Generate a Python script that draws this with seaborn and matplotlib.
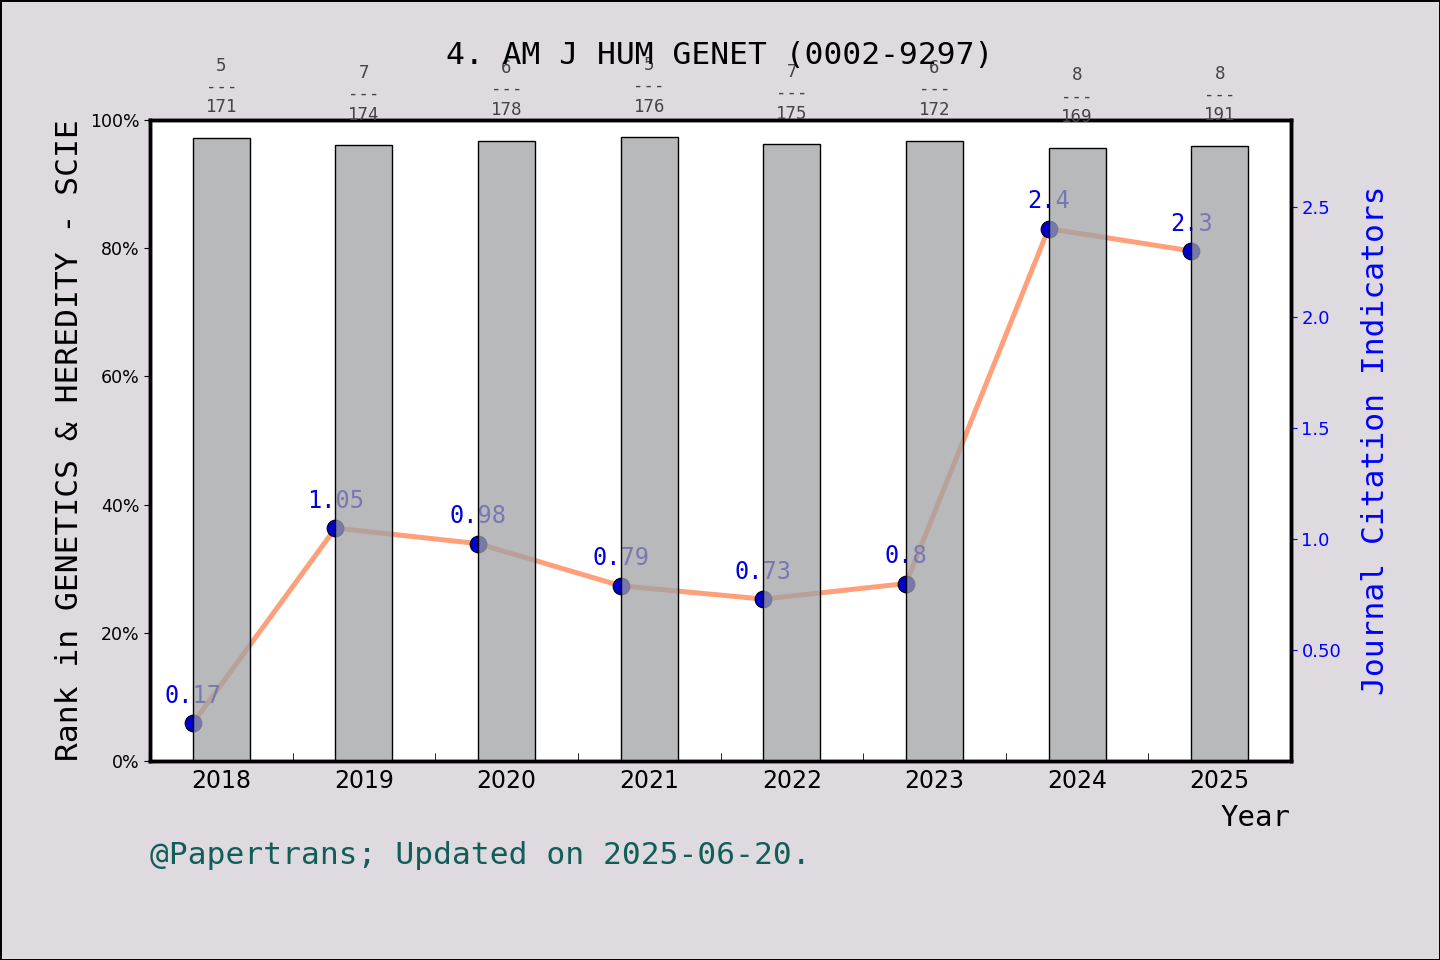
import matplotlib
matplotlib.use("Agg")
import matplotlib.pyplot as plt
from matplotlib.ticker import PercentFormatter, FixedLocator, FixedFormatter, MultipleLocator
import seaborn as sns
import numpy as np

# Data
years = ['2018', '2019', '2020', '2021', '2022', '2023', '2024', '2025']
rank_pct = [97.2, 96.1, 96.8, 97.3, 96.2, 96.8, 95.7, 96.0]
ranks = [5, 7, 6, 5, 7, 6, 8, 8]
totals = [171, 174, 178, 176, 175, 172, 169, 191]
jci = [0.17, 1.05, 0.98, 0.79, 0.73, 0.8, 2.4, 2.3]
jci_labels = ['0.17', '1.05', '0.98', '0.79', '0.73', '0.8', '2.4', '2.3']
jci_ticks = [0.5, 1.0, 1.5, 2.0, 2.5]
jci_tick_labels = ['0.50', '1.0', '1.5', '2.0', '2.5']

mono = 'DejaVu Sans Mono'
bg = '#dedae0'

fig = plt.figure(figsize=(14.4, 9.6), dpi=100, facecolor=bg,
                 edgecolor='black', linewidth=2)
ax = fig.add_axes([0.1042, 0.2073, 0.7923, 0.6677])
ax2 = ax.twinx()

# bars sit above the line and are semi transparent
ax.set_zorder(2)
ax2.set_zorder(1)
ax.patch.set_visible(False)
ax2.patch.set_visible(True)
ax2.patch.set_facecolor('white')

sns.barplot(x=years, y=rank_pct, ax=ax, width=0.4, saturation=1,
            color='#a0a2a4')
for p in ax.patches:
    p.set_facecolor((0.627, 0.635, 0.643, 0.75))
    p.set_edgecolor('black')
    p.set_linewidth(1)

xpos = np.arange(len(years)) - 0.2
sns.lineplot(x=xpos, y=jci, ax=ax2, color='#ffa07a', linewidth=3.6,
             marker='o', markersize=12, markerfacecolor='#0000cd',
             markeredgecolor='black', markeredgewidth=0.8)

for x, v, s in zip(xpos, jci, jci_labels):
    ax2.annotate(s, (x, v), xytext=(0, 11), textcoords='offset points',
                 ha='center', va='bottom', color='#0000dd',
                 fontsize=17, family=mono)

for i, (h, r, n) in enumerate(zip(rank_pct, ranks, totals)):
    ax.text(i, h + 8, f"{r}\n---\n{n}", ha='center', va='center',
            fontsize=12.5, color='#444444', clip_on=False,
            linespacing=1.2, family=mono)

ax.set_xlim(-0.5, len(years) - 0.5)
ax.set_ylim(0, 100)
ax2.set_ylim(0, 2.89)

ax.yaxis.set_major_locator(MultipleLocator(20))
ax.yaxis.set_major_formatter(PercentFormatter(100, decimals=0))
ax.tick_params(axis='y', labelsize=12.5, length=4, direction='out')
ax.tick_params(axis='x', labelsize=17, length=0, pad=6)
ax.xaxis.set_minor_locator(FixedLocator(np.arange(len(years) - 1) + 0.5))
ax.tick_params(axis='x', which='minor', direction='in', length=6)

ax2.yaxis.set_major_locator(FixedLocator(jci_ticks))
ax2.yaxis.set_major_formatter(FixedFormatter(jci_tick_labels))
ax2.tick_params(axis='y', colors='blue', labelsize=13, length=4)

for a in (ax, ax2):
    for sp in a.spines.values():
        sp.set_color('black')
        sp.set_linewidth(2.5)

ax.set_ylabel('Rank in GENETICS & HEREDITY - SCIE', family=mono,
              fontsize=22.5, labelpad=4)
ax2.set_ylabel('Journal Citation Indicators', family=mono, fontsize=22.5,
               color='blue', labelpad=14)
ax.set_xlabel('Year', family=mono, fontsize=21, loc='right', labelpad=8)

fig.text(0.5, 0.942, '4. AM J HUM GENET (0002-9297)', family=mono,
         fontsize=22.5, ha='center', va='center')
fig.text(0.1042, 0.109, '@Papertrans; Updated on 2025-06-20.', family=mono,
         fontsize=22.5, ha='left', va='center', color='#115e59')

fig.savefig('out.png', dpi=100, facecolor=bg, edgecolor='black')
